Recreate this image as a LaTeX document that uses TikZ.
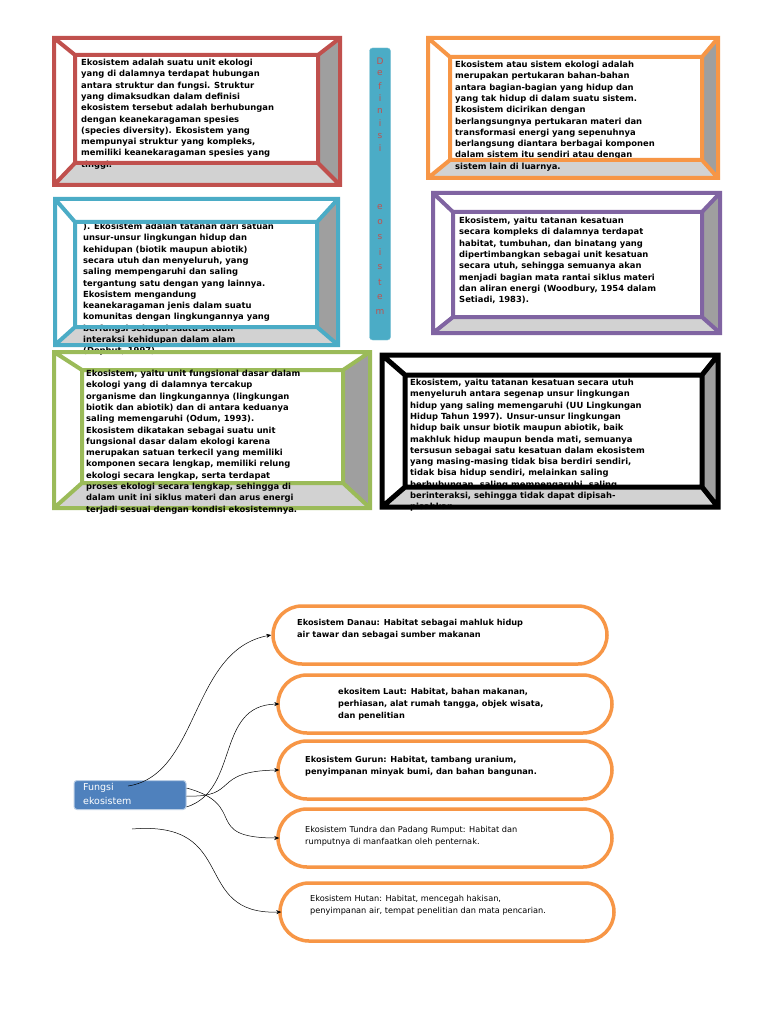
\documentclass[tikz,border=0pt]{standalone}
\usepackage{fontspec}
\setmainfont{DejaVu Sans}
\usetikzlibrary{arrows.meta}
\definecolor{cred}{HTML}{C0504D}
\definecolor{corange}{HTML}{F79646}
\definecolor{ccyan}{HTML}{4BACC6}
\definecolor{cpurple}{HTML}{8064A2}
\definecolor{cgreen}{HTML}{9BBB59}
\definecolor{cblue}{HTML}{4F81BD}
\tikzset{
  boxtext/.style={anchor=north west,inner sep=0pt,align=left,font=\bfseries\fontsize{8.4}{11.3}\selectfont},
  ovaltext/.style={anchor=north west,inner sep=0pt,align=left,font=\fontsize{8.2}{12}\selectfont},
  oval/.style={draw=corange,line width=3.5pt,rounded corners=29pt,minimum width=334pt,minimum height=58pt},
  conn/.style={-{Stealth[length=5pt,width=4pt]},line width=0.5pt},
  barletter/.style={text=cred,font=\fontsize{9}{9}\selectfont,inner sep=0pt}
}
\newcommand{\bevfill}[8]{%
  \fill[gray!75] (#3,#2) -- (#3,#4) -- (#7,#8) -- (#7,#6) -- cycle;
  \fill[gray!35] (#1,#4) -- (#3,#4) -- (#7,#8) -- (#5,#8) -- cycle;
}
\newcommand{\bevframe}[9]{%
  \draw[#9,line cap=round,line join=miter] (#1,#2) rectangle (#3,#4) (#5,#6) rectangle (#7,#8)
    (#1,#2) -- (#5,#6) (#3,#2) -- (#7,#6) (#1,#4) -- (#5,#8) (#3,#4) -- (#7,#8);
}
\begin{document}
\begin{tikzpicture}[x=1pt,y=-1pt]
\useasboundingbox (0,0) rectangle (768,1024);
\fill[white] (0,0) rectangle (768,1024);
\bevfill{54}{38}{340}{185}{75}{55}{318}{163}
\bevfill{428}{38}{718}{178}{450}{57}{702}{160}
\bevfill{55}{199}{338}{345}{75}{222}{317}{327}
\bevfill{433}{193}{720}{333}{453}{212}{702}{317}
\bevfill{54}{352}{370}{508}{82}{370}{343}{483}
\bevfill{382}{355}{718}{507}{405}{375}{702}{487}
\node[boxtext] (t1) at (81,59) {Ekosistem adalah suatu unit ekologi\\yang di dalamnya terdapat hubungan\\antara struktur dan fungsi. Struktur\\yang dimaksudkan dalam definisi\\ekosistem tersebut adalah berhubungan\\dengan keanekaragaman spesies\\(species diversity). Ekosistem yang\\mempunyai struktur yang kompleks,\\memiliki keanekaragaman spesies yang\\tinggi.};
\node[boxtext] (t2) at (455,61) {Ekosistem atau sistem ekologi adalah\\merupakan pertukaran bahan-bahan\\antara bagian-bagian yang hidup dan\\yang tak hidup di dalam suatu sistem.\\Ekosistem dicirikan dengan\\berlangsungnya pertukaran materi dan\\transformasi energi yang sepenuhnya\\berlangsung diantara berbagai komponen\\dalam sistem itu sendiri atau dengan\\sistem lain di luarnya.};
\node[boxtext] (t3) at (83,223) {). Ekosistem adalah tatanan dari satuan\\unsur-unsur lingkungan hidup dan\\kehidupan (biotik maupun abiotik)\\secara utuh dan menyeluruh, yang\\saling mempengaruhi dan saling\\tergantung satu dengan yang lainnya.\\Ekosistem mengandung\\keanekaragaman jenis dalam suatu\\komunitas dengan lingkungannya yang\\berfungsi sebagai suatu satuan\\interaksi kehidupan dalam alam\\(Dephut, 1997).};
\node[boxtext] (t4) at (459,217) {Ekosistem, yaitu tatanan kesatuan\\secara kompleks di dalamnya terdapat\\habitat, tumbuhan, dan binatang yang\\dipertimbangkan sebagai unit kesatuan\\secara utuh, sehingga semuanya akan\\menjadi bagian mata rantai siklus materi\\dan aliran energi (Woodbury, 1954 dalam\\Setiadi, 1983).};
\node[boxtext] (t6) at (410,379) {Ekosistem, yaitu tatanan kesatuan secara utuh\\menyeluruh antara segenap unsur lingkungan\\hidup yang saling memengaruhi (UU Lingkungan\\Hidup Tahun 1997). Unsur-unsur lingkungan\\hidup baik unsur biotik maupun abiotik, baik\\makhluk hidup maupun benda mati, semuanya\\tersusun sebagai satu kesatuan dalam ekosistem\\yang masing-masing tidak bisa berdiri sendiri,\\tidak bisa hidup sendiri, melainkan saling\\berhubungan, saling mempengaruhi, saling\\berinteraksi, sehingga tidak dapat dipisah-\\pisahkan.};
\bevframe{54}{38}{340}{185}{75}{55}{318}{163}{cred,line width=4pt}
\bevframe{428}{38}{718}{178}{450}{57}{702}{160}{corange,line width=4pt}
\bevframe{433}{193}{720}{333}{453}{212}{702}{317}{cpurple,line width=4pt}
\bevframe{382}{355}{718}{507}{405}{375}{702}{487}{black,line width=5pt}
\bevframe{54}{352}{370}{508}{82}{370}{343}{483}{cgreen,line width=4pt}
\node[boxtext] (t5) at (86,370) {Ekosistem, yaitu unit fungsional dasar dalam\\ekologi yang di dalamnya tercakup\\organisme dan lingkungannya (lingkungan\\biotik dan abiotik) dan di antara keduanya\\saling memengaruhi (Odum, 1993).\\Ekosistem dikatakan sebagai suatu unit\\fungsional dasar dalam ekologi karena\\merupakan satuan terkecil yang memiliki\\komponen secara lengkap, memiliki relung\\ekologi secara lengkap, serta terdapat\\proses ekologi secara lengkap, sehingga di\\dalam unit ini siklus materi dan arus energi\\terjadi sesuai dengan kondisi ekosistemnya.};
\bevframe{55}{199}{338}{345}{75}{222}{317}{327}{ccyan,line width=4pt}
\node[fill=ccyan,draw=ccyan!70!white,rounded corners=3pt,minimum width=21pt,minimum height=292pt,inner sep=0pt] (bar) at (380,194) {};
\foreach \c [count=\i] in {D,e,f,i,n,i,s,i}
  \node[barletter] (d\i) at (380,61+12.5*\i-12.5) {\c};
\foreach \c [count=\i] in {e,o,s,i,s,t,e,m}
  \node[barletter] (k\i) at (380,207+15*\i-15) {\c};
\node[fill=cblue,draw=cblue!40!white,line width=1pt,rounded corners=3pt,minimum width=112pt,minimum height=29pt,inner sep=0pt] (f) at (130,795) {};
\node[anchor=north west,text=white,align=left,inner sep=0pt,font=\fontsize{9.5}{14}\selectfont] (ft) at (83,783) {Fungsi\\ekosistem};
\fill[white] (60,811) rectangle (200,820);
\node[oval] (o1) at (440,635) {};
\node[oval] (o2) at (445,704) {};
\node[oval] (o3) at (445,770) {};
\node[oval] (o4) at (445,838) {};
\node[oval] (o5) at (447,912) {};
\node[ovaltext,font=\bfseries\fontsize{8.2}{12}\selectfont] (x1) at (297,619) {Ekosistem Danau: Habitat sebagai mahluk hidup\\air tawar dan sebagai sumber makanan};
\node[ovaltext,font=\bfseries\fontsize{8.2}{12}\selectfont] (x2) at (338,688) {ekositem Laut: Habitat, bahan makanan,\\perhiasan, alat rumah tangga, objek wisata,\\dan penelitian};
\node[ovaltext,font=\bfseries\fontsize{8.2}{12}\selectfont] (x3) at (305,756) {Ekosistem Gurun: Habitat, tambang uranium,\\penyimpanan minyak bumi, dan bahan bangunan.};
\node[ovaltext] (x4) at (305,826) {Ekosistem Tundra dan Padang Rumput: Habitat dan\\rumputnya di manfaatkan oleh penternak.};
\node[ovaltext] (x5) at (310,895) {Ekosistem Hutan: Habitat, mencegah hakisan,\\penyimpanan air, tempat penelitian dan mata pencarian.};
\coordinate (s1) at (128,786);
\coordinate (s5) at (132,829);
\draw[conn] (s1) .. controls (200,775) and (190,650) .. (o1.west);
\draw[conn] ([yshift=-12pt]f.east) .. controls (240,790) and (215,705) .. ([xshift=3pt]o2.west);
\draw[conn] ([yshift=-1pt]f.east) .. controls (240,798) and (210,771) .. ([xshift=3pt]o3.west);
\draw[conn] ([yshift=7pt]f.east) .. controls (250,805) and (200,838) .. ([xshift=3pt]o4.west);
\draw[conn] (s5) .. controls (240,820) and (190,915) .. ([xshift=3pt]o5.west);
\end{tikzpicture}
\end{document}
